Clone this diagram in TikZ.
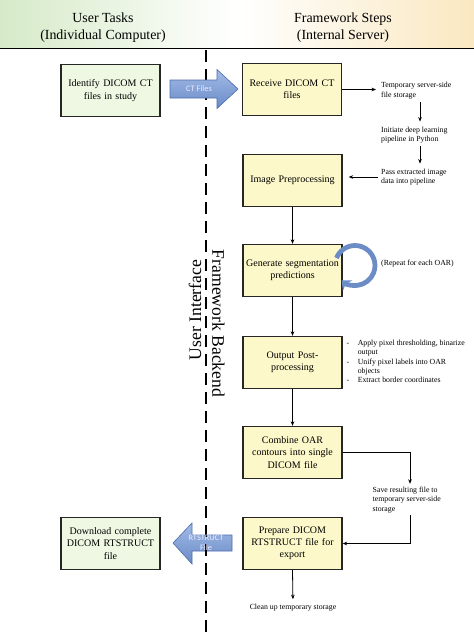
\documentclass[tikz,border=0pt]{standalone}
\usepackage{fontspec}
\setmainfont{Liberation Serif}
\newfontfamily\calibfont{Carlito}
\usetikzlibrary{arrows.meta,calc}
\definecolor{ugreen}{HTML}{EFF8E3}
\definecolor{fyellow}{HTML}{FDF8C9}
\definecolor{hgreen}{HTML}{D6EAC8}
\definecolor{hpeach}{HTML}{FAE8C0}
\definecolor{blight}{HTML}{A3BBE6}
\definecolor{bdark}{HTML}{6A8BC8}
\definecolor{bline}{HTML}{4D6DAC}
\definecolor{loopblue}{HTML}{6C8CC6}
\begin{document}
\begin{tikzpicture}[x=1pt,y=-1pt,
  box/.style={draw=black!85, line width=1.3pt, minimum width=99pt, minimum height=52pt,
    text width=96pt, align=center, inner sep=0pt, font=\fontsize{10}{12.2}\selectfont},
  fbox/.style={box, fill=fyellow},
  ubox/.style={box, fill=ugreen},
  note/.style={font=\fontsize{7.8}{9.4}\selectfont, align=left, inner sep=0pt, anchor=west},
  conn/.style={-{Stealth[length=4.5pt,width=3.6pt]}, line width=0.8pt},
  blockarrow/.style={top color=blight, bottom color=bdark, draw=bline, line width=0.6pt},
  arrowlabel/.style={text=white!92!blue, font=\calibfont\fontsize{8.4}{9.6}\selectfont, align=center, inner sep=0pt},
  header/.style={font=\fontsize{13.9}{17}\selectfont, align=center, inner sep=0pt},
  side/.style={font=\fontsize{17.6}{20}\selectfont, inner sep=0pt}
]
\useasboundingbox (0,0) rectangle (474,632);

% header
\shade[left color=hgreen, right color=hpeach, middle color=white] (0,0) rectangle (474,48);
\draw[line width=1.2pt] (0,48.5) -- (474,48.5);
\node[header] (ut) at (103,28) {User Tasks\\(Individual Computer)};
\node[header] (fs) at (343,28) {Framework Steps\\(Internal Server)};

% RTSTRUCT block arrow (under the divider)
\path[blockarrow] (232,535) -- (192,535) -- (192,523) -- (173,543) -- (192,564) -- (192,551) -- (232,551) -- cycle;

% divider
\draw[dash pattern=on 12pt off 7pt, line width=2.6pt] (206,50) -- (206,632);

\node[arrowlabel] (rtlbl) at (206,542.5) {RTSTRUCT\\File};

% CT Files block arrow (over the divider)
\path[blockarrow] (170,80) -- (217,80) -- (217,69.5) -- (238,89) -- (217,108.5) -- (217,98) -- (170,98) -- cycle;
\node[arrowlabel] (ctlbl) at (199,89) {CT Files};

% side labels
\node[side, rotate=90] (ui) at (195,310) {User Interface};
\node[side, rotate=-90] (fb) at (218.5,323.5) {Framework Backend};

% boxes
\node[ubox] (identify) at (110.5,90.5) {Identify DICOM CT\\files in study};
\node[fbox] (receive) at (292,89.5) {Receive DICOM CT\\files};
\node[fbox] (prep) at (292.5,180.5) {Image Preprocessing};
\node[fbox] (gen) at (292.5,270.5) {Generate segmentation\\predictions};
\node[fbox] (post) at (292.5,362.5) {Output Post-\\processing};
\node[fbox] (combine) at (292.5,452.5) {Combine OAR\\contours into single\\DICOM file};
\node[fbox] (prepare) at (292.5,543.5) {Prepare DICOM\\RTSTRUCT file for\\export};
\node[ubox] (download) at (110.5,543.5) {Download complete\\DICOM RTSTRUCT\\file};

% notes
\node[note] (n1) at (381,90.5) {Temporary server-side\\file storage};
\node[note] (n2) at (381,135) {Initiate deep learning\\pipeline in Python};
\node[note] (n3) at (381,177) {Pass extracted image\\data into pipeline};
\node[note] (rep) at (381,263.3) {(Repeat for each OAR)};
\node[note] (bul) at (346.5,362.3) {\begin{tabular}{@{}l@{\hspace{8.5pt}}l@{}}
- & Apply pixel thresholding, binarize\\
 & output\\
- & Unify pixel labels into OAR\\
 & objects\\
- & Extract border coordinates
\end{tabular}};
\node[note] (save) at (372.5,500) {Save resulting file to\\temporary server-side\\storage};
\node[note, anchor=center] (clean) at (293,608) {Clean up temporary storage};

\coordinate (rx1) at (420,0);
\coordinate (rx2) at (410,0);

% connectors
\draw[conn, shorten >=5pt] (receive.east) -- (receive.east -| n1.west);
\draw[conn, shorten <=3pt, shorten >=5pt] (n1.south -| rx1) -- (n2.north -| rx1);
\draw[conn, shorten <=3pt, shorten >=5pt] (n2.south -| rx1) -- (n3.north -| rx1);
\draw[conn, shorten <=3pt, shorten >=6pt] (n3.west) -- (n3.west -| prep.east);
\draw[conn] (prep.south) -- (gen.north);
\draw[conn] (gen.south) -- (post.north);
\draw[conn] (post.south) -- (combine.north);
\draw[conn, shorten >=3pt] (combine.east) -| (save.north -| rx2);
\draw[conn, shorten <=2pt] (save.south -| rx2) |- (prepare.east);
\draw[conn, shorten >=5pt] (prepare.south) -- (clean.north);

% repeat loop
\coordinate (lc) at (355,265.5);
\draw[loopblue, line width=4.8pt, -{Stealth[length=8pt,width=14pt]}]
  ($(lc)+(-158:20)$) arc[start angle=-158, end angle=132, radius=20];
\end{tikzpicture}
\end{document}
